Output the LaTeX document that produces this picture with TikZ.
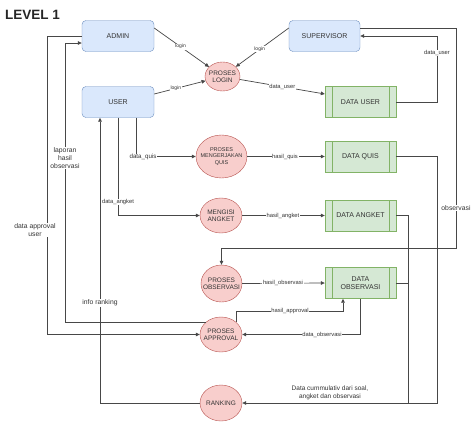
\documentclass[tikz,border=0pt]{standalone}
\usepackage{fontspec}
\setmainfont{Liberation Sans}
\usetikzlibrary{arrows.meta,calc,shapes.geometric}
\definecolor{bfill}{HTML}{DAE8FC}\definecolor{bline}{HTML}{6C8EBF}
\definecolor{rfill}{HTML}{F8CECC}\definecolor{rline}{HTML}{B85450}
\definecolor{gfill}{HTML}{D5E8D4}\definecolor{gline}{HTML}{82B366}
\definecolor{ink}{HTML}{333333}\definecolor{wirec}{HTML}{474747}
\tikzset{
 entity/.style={draw=bline, fill=bfill, rounded corners=4pt, minimum width=72pt, minimum height=31pt, inner sep=0pt, font=\fontsize{7}{8}\selectfont, text=ink},
 proc/.style={draw=rline, fill=rfill, ellipse, inner xsep=-6pt, inner ysep=0pt, font=\fontsize{6.5}{7.2}\selectfont, text=ink, align=center},
 store/.style={draw=gline, fill=gfill, minimum width=71pt, minimum height=31pt, inner sep=0pt, font=\fontsize{7}{8}\selectfont, text=ink, align=center,
   path picture={\draw[gline] ([xshift=7pt]path picture bounding box.north west) -- ([xshift=7pt]path picture bounding box.south west);
                 \draw[gline] ([xshift=-7pt]path picture bounding box.north east) -- ([xshift=-7pt]path picture bounding box.south east);}},
 flow/.style={draw=wirec, line width=0.7pt, -{Triangle[length=4pt,width=3.6pt]}},
 wire/.style={draw=wirec, line width=0.7pt},
 lbl/.style={fill=white, inner sep=0.6pt, font=\fontsize{5.8}{6.5}\selectfont, text=ink, align=center},
 biglbl/.style={fill=white, inner sep=0.8pt, font=\fontsize{6.8}{7.8}\selectfont, text=ink, align=center},
}
\begin{document}
\begin{tikzpicture}[x=1pt,y=-1pt]
\useasboundingbox[fill=white] (0,0) rectangle (474,424);
\node[anchor=west, font=\fontsize{13.5}{14}\selectfont\bfseries, text=black!85, inner sep=0pt] (title) at (5,15) {LEVEL 1};
% routing columns / rows
\coordinate (c47) at (47,0);
\coordinate (c65) at (65,0);
\coordinate (c408) at (408,0);
\coordinate (c437) at (437,0);
\coordinate (c456) at (456,0);
\coordinate (y248) at (0,248);
\coordinate (y311) at (0,311);
% entities
\node[entity] (admin) at (118,36) {ADMIN};
\node[entity] (user) at (118,102) {USER};
\node[entity, minimum width=71pt] (supervisor) at (324.5,36) {SUPERVISOR};
% processes
\node[proc, minimum width=35pt, minimum height=29pt] (login) at (222.5,76.5) {PROSES\\LOGIN};
\node[proc, minimum width=51pt, minimum height=43pt, font=\fontsize{5.5}{6.2}\selectfont] (quis) at (221.5,156.5) {PROSES\\MENGERJAKAN\\QUIS};
\node[proc, minimum width=42pt, minimum height=35pt] (angket) at (221,215.5) {MENGISI\\ANGKET};
\node[proc, minimum width=41pt, minimum height=37pt] (obs) at (221.5,283.5) {PROSES\\OBSERVASI};
\node[proc, minimum width=42pt, minimum height=35pt] (approval) at (221,334.5) {PROSES\\APPROVAL};
\node[proc, minimum width=42pt, minimum height=36pt] (ranking) at (221,403) {RANKING};
% data stores
\node[store] (datauser) at (360.5,102) {DATA USER};
\node[store] (dataquis) at (360.5,156.5) {DATA QUIS};
\node[store] (dataangket) at (360.5,215.5) {DATA ANGKET};
\node[store] (dataobs) at (360.5,283) {DATA\\OBSERVASI};
% login flows
\draw[flow] ($(admin.east)+(0,-8)$) -- (login) node[lbl, pos=0.48, font=\fontsize{5}{6}\selectfont] (l1) {login};
\draw[flow] ($(supervisor.west)+(0,-8)$) -- (login) node[lbl, pos=0.55, font=\fontsize{5}{6}\selectfont] (l2) {login};
\draw[flow] ($(user.east)+(0,-8)$) -- (login) node[lbl, pos=0.42, font=\fontsize{5}{6}\selectfont] (l3) {login};
\draw[flow] (login) -- ($(datauser.west)+(0,-8)$) node[lbl, pos=0.5] (l4) {data\_user};
% data user -> supervisor
\draw[flow] (datauser.east) -| (c437 |- supervisor.east) -- (supervisor.east);
\node[lbl] (l5) at (437,53) {data\_user};
% supervisor -> proses observasi
\draw[flow] ($(supervisor.east)+(0,-8)$) -| (c456 |- y248) -| (obs.north);
\node[biglbl] (l6) at (456,208) {observasi};
% user flows
\draw[flow] ($(user.south)+(18,0)$) |- (quis.west);
\node[lbl, font=\fontsize{6.2}{7}\selectfont] (l7) at (143,157) {data\_quis};
\draw[flow] (user.south) |- (angket.west);
\node[lbl] (l8) at (118,202) {data\_angket};
\draw[flow] (ranking.west) -| ($(user.south)+(-18,0)$);
\node[biglbl] (l9) at (100,303) {info ranking};
% admin <-> approval
\draw[flow] (admin.west) -| (c47 |- approval.west) -- (approval.west);
\node[biglbl] (l10) at (35,230) {data approval\\user};
\draw[flow] (approval.140) -- (approval.140 -| c65) |- ($(admin.west)+(0,7)$);
\node[biglbl] (l11) at (65,158) {laporan\\hasil\\observasi};
% process -> store
\draw[flow] (quis.east) -- (dataquis.west);
\node[lbl] (l12) at (285,157) {hasil\_quis};
\draw[flow] (angket.east) -- (dataangket.west);
\node[lbl] (l13) at (283,215.5) {hasil\_angket};
\draw[flow] (obs.east) -- (dataobs.west);
\node[lbl] (l14) at (283,283.3) {hasil\_observasi};
% approval <-> data observasi
\draw[flow] (approval.39) -- (approval.39 |- y311) -| ($(dataobs.south)+(-17.5,0)$);
\node[lbl] (l15) at (290,311) {hasil\_approval};
\draw[flow] (dataobs.south) |- (approval.east);
\node[lbl] (l16) at (322,334.5) {data\_observasi};
% stores -> ranking
\draw[flow] (dataquis.east) -| (c437 |- ranking.east) -- (ranking.east);
\draw[wire] (dataangket.east) -| (c408 |- ranking.east);
\draw[wire] (dataobs.east) -- (dataobs.east -| c408);
\node[biglbl, font=\fontsize{6.5}{7.5}\selectfont, fill=none] (l17) at (330,393) {Data cummulativ dari soal,\\angket dan observasi};
\end{tikzpicture}
\end{document}
